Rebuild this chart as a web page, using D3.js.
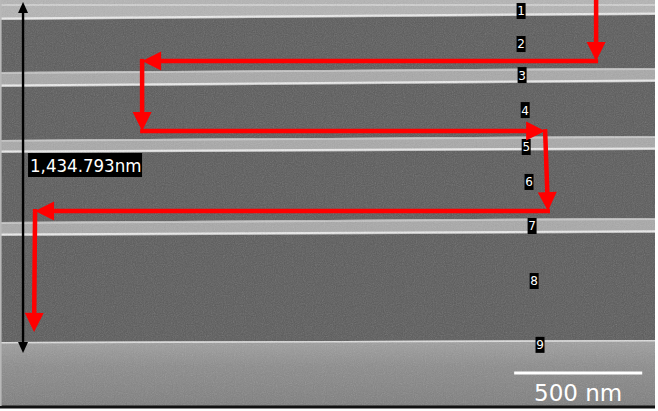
<!DOCTYPE html>
<html>
<head>
<meta charset="utf-8">
<title>SEM cross-section with layer path</title>
<script src="https://cdn.jsdelivr.net/npm/d3@7"></script>
<style>
  html, body { margin: 0; padding: 0; background: #fff; }
  svg { display: block; }
  .num text, .meas text, .scalebar text { font-family: "DejaVu Sans", Verdana, sans-serif; fill: #fff; }
  .meas text { font-family: "DejaVu Sans Condensed", "DejaVu Sans", sans-serif; }
</style>
</head>
<body>
<svg id="chart" width="658" height="411"></svg>
<script>
// layer stack, depths in nm measured from the top of the micrograph
var layerNames = ['1', '2', '3', '4', '5', '6', '7', '8', '9'];
var topLeft  = [0, 82, 294, 356, 572, 625, 908, 965, 1398];
var topRight = [0, 61, 278, 335, 556, 613, 891, 952, 1390];
var imageDepth = 1660;
var imageWidth = 2558;

// layer number tags (lateral nm, depth nm)
var tagX     = [2035, 2035, 2039, 2051, 2055, 2066, 2078, 2086, 2109];
var tagDepth = [45, 180, 307, 450, 601, 744, 924, 1149, 1410];

// red deposition path
var pathX     = [2328, 2328, 555, 555, 2129, 2140, 137, 133];
var pathDepth = [0, 249, 249, 536, 536, 863, 863, 1357];

// total thickness measurement
var measValue = 1434.793;
var measX = 90;
var measStart = 8;

// scale bar
var barLength = 500;
var barX = 2008;
var barDepth = 1525;

var svg = d3.select('#chart'),
    W = 655, H = 406;

var x = d3.scaleLinear().domain([0, imageWidth]).range([0, W]);
var y = d3.scaleLinear().domain([0, imageDepth]).range([0, H]);

var defs = svg.append('defs');
var clip = defs.append('clipPath').attr('id', 'img');
clip.append('rect').attr('width', W).attr('height', H);

var grad = defs.append('linearGradient').attr('id', 'sub').attr('x1', 0).attr('x2', 0).attr('y1', 0).attr('y2', 1);
grad.append('stop').attr('offset', '0%').attr('stop-color', '#a0a0a0');
grad.append('stop').attr('offset', '40%').attr('stop-color', '#8b8b8b');
grad.append('stop').attr('offset', '100%').attr('stop-color', '#7d7d7d');

var noise = defs.append('filter').attr('id', 'noise').attr('x', 0).attr('y', 0).attr('width', 1).attr('height', 1);
noise.append('feTurbulence').attr('type', 'fractalNoise').attr('baseFrequency', 0.9).attr('numOctaves', 2).attr('seed', 3);
noise.append('feColorMatrix').attr('type', 'saturate').attr('values', 0);

var g = svg.append('g').attr('clip-path', 'url(#img)');

var layers = layerNames.map(function(name, i) {
  return {
    name: name,
    tl: topLeft[i], tr: topRight[i],
    bl: i < layerNames.length - 1 ? topLeft[i + 1] : imageDepth,
    br: i < layerNames.length - 1 ? topRight[i + 1] : imageDepth,
    bright: i % 2 === 0
  };
});

var poly = d3.line().x(function(d) { return x(d[0]); }).y(function(d) { return y(d[1]); });

g.selectAll('path.layer')
  .data(layers)
  .enter().append('path')
  .attr('class', 'layer')
  .attr('d', function(d) {
    return poly([[0, d.tl], [imageWidth, d.tr], [imageWidth, d.br], [0, d.bl]]) + 'Z';
  })
  .attr('fill', function(d, i) {
    if (i === layers.length - 1) return 'url(#sub)';
    if (i === 0) return '#b4b4b4';
    return d.bright ? '#a8a8a8' : '#5a5a5a';
  });

// bright edges of the thin bands
layers.forEach(function(d, i) {
  if (!d.bright) return;
  if (i < layers.length - 1) {
    g.append('path')
      .attr('d', poly([[0, d.bl - 6], [imageWidth, d.br - 6]]))
      .attr('stroke', '#ececec').attr('stroke-width', 2).attr('fill', 'none');
    if (i > 0) {
      g.append('path')
        .attr('d', poly([[0, d.tl + 5], [imageWidth, d.tr + 5]]))
        .attr('stroke', '#c8c8c8').attr('stroke-width', 1.5).attr('fill', 'none');
    }
  } else {
    g.append('path')
      .attr('d', poly([[0, d.tl + 3], [imageWidth, d.tr + 3]]))
      .attr('stroke', '#dedede').attr('stroke-width', 1.5).attr('fill', 'none');
  }
});
// first band has a second highlight near the top
g.append('path')
  .attr('d', poly([[0, topLeft[0] + 20], [imageWidth, topRight[0] + 20]]))
  .attr('stroke', '#d8d8d8').attr('stroke-width', 1.5).attr('fill', 'none');

// SEM grain
g.append('rect').attr('width', W).attr('height', H)
  .attr('filter', 'url(#noise)').attr('opacity', 0.26);

// frame bits
svg.append('line').attr('x1', 0).attr('x2', W).attr('y1', H + 1).attr('y2', H + 1)
  .attr('stroke', '#111').attr('stroke-width', 3);
svg.append('line').attr('x1', 0.8).attr('x2', 0.8).attr('y1', 0).attr('y2', H)
  .attr('stroke', '#b8b8b8').attr('stroke-width', 1.6);

// layer tags
var tags = svg.append('g').attr('class', 'num')
  .selectAll('g')
  .data(layerNames)
  .enter().append('g')
  .attr('transform', function(d, i) { return 'translate(' + x(tagX[i]) + ',' + y(tagDepth[i]) + ')'; });
tags.append('rect').attr('x', -4.5).attr('y', -8).attr('width', 9).attr('height', 16).attr('fill', '#000');
tags.append('text').attr('text-anchor', 'middle').attr('dy', '0.37em')
  .style('font-size', '12px').text(function(d) { return d; });

// thickness measurement arrow
var meas = svg.append('g').attr('class', 'meas');
var my0 = y(measStart), my1 = y(measStart + measValue), mx = x(measX);
meas.append('line').attr('x1', mx).attr('x2', mx).attr('y1', my0 + 8).attr('y2', my1 - 8)
  .attr('stroke', '#000').attr('stroke-width', 2.4);
meas.append('path').attr('d', 'M' + mx + ',' + my0 + 'l-5,11h10z').attr('fill', '#000');
meas.append('path').attr('d', 'M' + mx + ',' + my1 + 'l-5,-11h10z').attr('fill', '#000');
var fmt = d3.format(',.3f');
meas.append('rect').attr('x', mx + 5).attr('y', 153).attr('width', 114).attr('height', 24).attr('fill', '#000');
meas.append('text').attr('x', mx + 7).attr('y', 172).style('font-size', '18.5px')
  .text(fmt(measValue) + 'nm');

// red path, one arrow per segment
var red = svg.append('g').attr('class', 'route');
var headLen = 19, headHalf = 9.5;
for (var i = 0; i < pathX.length - 1; i++) {
  var x0 = x(pathX[i]), y0 = y(pathDepth[i]),
      x1 = x(pathX[i + 1]), y1 = y(pathDepth[i + 1]);
  var dx = x1 - x0, dy = y1 - y0, len = Math.sqrt(dx * dx + dy * dy);
  var ux = dx / len, uy = dy / len;
  var bx = x1 - ux * headLen, by = y1 - uy * headLen;
  red.append('line')
    .attr('x1', x0 - ux * 2).attr('y1', y0 - uy * 2)
    .attr('x2', bx + ux * 2).attr('y2', by + uy * 2)
    .attr('stroke', '#ff0000').attr('stroke-width', 4.5);
  red.append('path')
    .attr('d', 'M' + x1 + ',' + y1 +
      'L' + (bx - uy * headHalf) + ',' + (by + ux * headHalf) +
      'L' + (bx + uy * headHalf) + ',' + (by - ux * headHalf) + 'Z')
    .attr('fill', '#ff0000');
}

// scale bar
var sb = svg.append('g').attr('class', 'scalebar');
var sx0 = x(barX), sx1 = x(barX + barLength), sy = y(barDepth);
sb.append('line').attr('x1', sx0).attr('x2', sx1).attr('y1', sy).attr('y2', sy)
  .attr('stroke', '#fff').attr('stroke-width', 3);
sb.append('text').attr('x', (sx0 + sx1) / 2).attr('y', sy + 28).attr('text-anchor', 'middle')
  .style('font-size', '23px').text(barLength + ' nm');
</script>
</body>
</html>
